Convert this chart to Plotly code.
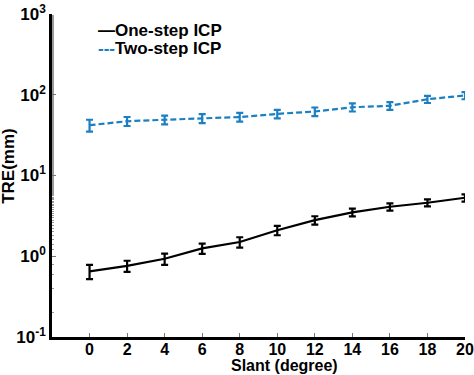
import plotly.graph_objects as go

slant = [0, 2, 4, 6, 8, 10, 12, 14, 16, 18, 20]
one_step = [0.65, 0.76, 0.93, 1.25, 1.5, 2.1, 2.8, 3.5, 4.1, 4.6, 5.3]
one_step_err = [0.13, 0.12, 0.15, 0.18, 0.22, 0.28, 0.33, 0.38, 0.42, 0.45, 0.55]
two_step = [42, 47, 49, 51, 53, 58, 62, 70, 73, 88, 98]
two_step_err = [7, 6, 6, 6.5, 6.5, 7, 7.5, 8, 8, 9, 10]

series_names = ["One-step ICP", "Two-step ICP"]
y_tickvals = [0.1, 1, 10, 100, 1000]
y_ticktext = ["10<sup>-1</sup>", "10<sup>0</sup>", "10<sup>1</sup>", "10<sup>2</sup>", "10<sup>3</sup>"]
x_tickvals = [0, 2, 4, 6, 8, 10, 12, 14, 16, 18, 20]

font = "Liberation Sans, Arial, sans-serif"
blue = "#1b7fc3"

fig = go.Figure()
fig.add_trace(go.Scatter(
    x=slant, y=one_step, mode="lines", name=series_names[0],
    line=dict(color="black", width=2.2),
    error_y=dict(type="data", array=one_step_err, color="black", thickness=2.2, width=3.5),
))
fig.add_trace(go.Scatter(
    x=slant, y=two_step, mode="lines", name=series_names[1],
    line=dict(color=blue, width=2.2, dash="6px,3px"),
    error_y=dict(type="data", array=two_step_err, color=blue, thickness=2.2, width=3.5),
))

# legend drawn as text entries (key glyph + label), as in the original figure
legend_keys = [("black", "\u2014"), (blue, "---")]
for i, (name, (col, key)) in enumerate(zip(series_names, legend_keys)):
    fig.add_annotation(
        xref="paper", yref="paper", x=0.106, y=0.950 - i * 0.0557,
        xanchor="left", yanchor="middle", showarrow=False,
        text="<span style='color:%s'><b>%s</b></span><b>%s</b>" % (col, key, name),
        font=dict(size=17, family=font, color="black"),
    )

# axis titles
fig.add_annotation(
    xref="paper", yref="paper", x=0.564, y=-0.088, xanchor="center", yanchor="middle",
    showarrow=False, text="<b>Slant (degree)</b>", font=dict(size=16, family=font, color="black"),
)
fig.add_annotation(
    xref="paper", yref="paper", x=-0.104, y=0.53, xanchor="center", yanchor="middle",
    showarrow=False, textangle=-90, text="<b>TRE(mm)</b>",
    font=dict(size=17, family=font, color="black"),
)

fig.update_layout(
    width=474, height=375,
    margin=dict(l=52, r=9, t=14, b=38),
    paper_bgcolor="white", plot_bgcolor="white",
    font=dict(family=font, size=15, color="black"),
    showlegend=False,
)
fig.update_xaxes(
    automargin=False,
    range=[-2, 20], tickvals=x_tickvals,
    ticktext=["<b>%d</b>" % v for v in x_tickvals],
    ticks="inside", ticklen=4, tickwidth=1, tickcolor="#777777",
    ticklabelstandoff=-4,
    showline=True, linecolor="black", linewidth=2.5, showgrid=False, zeroline=False,
    tickfont=dict(size=16, family=font),
)
fig.update_yaxes(
    automargin=False,
    type="log", range=[-1, 3], tickvals=y_tickvals,
    ticktext=["<b>%s</b>" % t for t in y_ticktext],
    ticks="inside", ticklen=4, tickwidth=1, tickcolor="#777777",
    minor=dict(ticks="inside", ticklen=2, tickwidth=1, tickcolor="#999999", showgrid=False),
    showline=True, linecolor="black", linewidth=2.5, showgrid=False, zeroline=False,
    tickfont=dict(size=17, family=font),
)

fig.write_html("out.html", config={"displayModeBar": False},
               post_script="document.body.style.margin='0';")
